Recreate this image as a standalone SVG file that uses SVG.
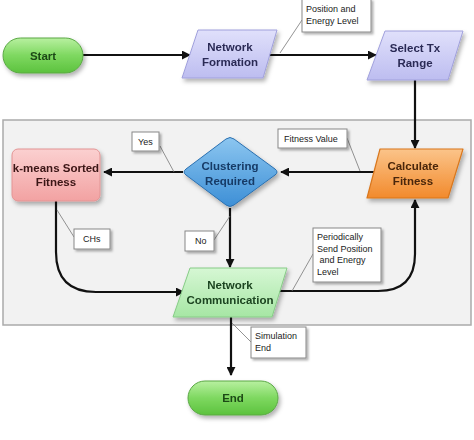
<svg xmlns="http://www.w3.org/2000/svg" width="474" height="440" viewBox="0 0 474 440">
<defs>
<linearGradient id="gStart" x1="0" y1="0" x2="0" y2="1"><stop offset="0" stop-color="#b8f0a0"/><stop offset="0.5" stop-color="#7ed860"/><stop offset="1" stop-color="#5cc23e"/></linearGradient>
<linearGradient id="gLav" x1="0" y1="0" x2="0" y2="1"><stop offset="0" stop-color="#e0e0fb"/><stop offset="1" stop-color="#bdbdf0"/></linearGradient>
<linearGradient id="gOr" x1="0" y1="0" x2="0" y2="1"><stop offset="0" stop-color="#fbc48a"/><stop offset="1" stop-color="#f28a2c"/></linearGradient>
<linearGradient id="gBlue" x1="0" y1="0" x2="0" y2="1"><stop offset="0" stop-color="#8cc6f0"/><stop offset="1" stop-color="#3d8fd6"/></linearGradient>
<linearGradient id="gPink" x1="0" y1="0" x2="0" y2="1"><stop offset="0" stop-color="#fbd0d0"/><stop offset="1" stop-color="#f2a2a2"/></linearGradient>
<linearGradient id="gLG" x1="0" y1="0" x2="0" y2="1"><stop offset="0" stop-color="#d6f7d4"/><stop offset="1" stop-color="#a6e6a4"/></linearGradient>
<filter id="sh" x="-20%" y="-20%" width="150%" height="160%"><feDropShadow dx="2" dy="3" stdDeviation="2" flood-color="#000" flood-opacity="0.3"/></filter>
<filter id="sh2" x="-20%" y="-20%" width="150%" height="160%"><feDropShadow dx="2" dy="2" stdDeviation="1.2" flood-color="#000" flood-opacity="0.3"/></filter>
<marker id="ah" viewBox="0 0 10 10" refX="9" refY="5" markerWidth="9" markerHeight="9" markerUnits="userSpaceOnUse" orient="auto"><path d="M0,0 L10,5 L0,10 z" fill="#111"/></marker>
</defs>
<style>
.lbl{font-family:"Liberation Sans",Arial,sans-serif;font-weight:bold;font-size:11.5px;text-anchor:middle}
.cal{font-family:"Liberation Sans",Arial,sans-serif;font-size:9px;fill:#222}
.cbox{fill:#fff;stroke:#888;stroke-width:1;filter:url(#sh2)}
.lead{stroke:#777;stroke-width:0.8;fill:none}
.conn{stroke:#111;stroke-width:2.2;fill:none}
</style>
<rect x="3" y="120" width="468" height="205" fill="#f2f2f2" stroke="#aaa" stroke-width="1.5"/>

<g id="connectors">
<line class="conn" x1="83" y1="55" x2="190" y2="55" marker-end="url(#ah)"/>
<line class="conn" x1="266" y1="55" x2="376" y2="55" marker-end="url(#ah)"/>
<line class="conn" x1="415" y1="80" x2="415" y2="148" stroke-width="1.5" marker-end="url(#ah)"/>
<line class="conn" x1="377" y1="172" x2="281" y2="172" marker-end="url(#ah)"/>
<line class="conn" x1="183" y1="172" x2="104" y2="172" marker-end="url(#ah)"/>
<line class="conn" x1="230" y1="208" x2="230" y2="267" stroke-width="1.5" marker-end="url(#ah)"/>
<path class="conn" d="M56,201 V252 Q56,292 96,292 H184" marker-end="url(#ah)"/>
<path class="conn" d="M275,291 H378 Q415,291 415,254 V200" marker-end="url(#ah)"/>
<line class="conn" x1="231" y1="317" x2="231" y2="375" marker-end="url(#ah)"/>
</g>

<g id="start" filter="url(#sh)">
<rect x="3" y="38" width="80" height="35" rx="17.5" fill="url(#gStart)" stroke="#5aa845" stroke-width="1"/>
<text class="lbl" x="43" y="59.5" fill="#1d4a17">Start</text>
</g>

<g id="network-formation" filter="url(#sh)">
<polygon points="198,30 277,30 263,78 182,78" fill="url(#gLav)" stroke="#a0a0dc" stroke-width="1" stroke-linejoin="round"/>
<text class="lbl" x="230" y="51" fill="#2a2a55">Network</text>
<text class="lbl" x="230" y="65.5" fill="#2a2a55">Formation</text>
</g>

<g id="select-tx" filter="url(#sh)">
<polygon points="385,31 463,31 448,80 367,80" fill="url(#gLav)" stroke="#a0a0dc" stroke-width="1" stroke-linejoin="round"/>
<text class="lbl" x="415" y="52" fill="#2a2a55">Select Tx</text>
<text class="lbl" x="415" y="66.5" fill="#2a2a55">Range</text>
</g>

<g id="calculate-fitness" filter="url(#sh)">
<polygon points="380,149 463,149 448,198 367,198" fill="url(#gOr)" stroke="#d9771c" stroke-width="1.2" stroke-linejoin="round"/>
<text class="lbl" x="413" y="170" fill="#4a2608">Calculate</text>
<text class="lbl" x="413" y="185" fill="#4a2608">Fitness</text>
</g>

<g id="clustering-required" filter="url(#sh)">
<path d="M226,139 Q230,136 234,139 L275,169 Q279,172 275,175 L234,205 Q230,208 226,205 L186,175 Q182,172 186,169 Z" fill="url(#gBlue)" stroke="#2a70b0" stroke-width="1"/>
<text class="lbl" x="230" y="170" fill="#173a66">Clustering</text>
<text class="lbl" x="230" y="185" fill="#173a66">Required</text>
</g>

<g id="kmeans" filter="url(#sh)">
<rect x="12" y="149" width="88" height="52" rx="6" fill="url(#gPink)" stroke="#e39494" stroke-width="1"/>
<text class="lbl" x="56" y="172" fill="#3a1414">k-means Sorted</text>
<text class="lbl" x="56" y="186" fill="#3a1414">Fitness</text>
</g>

<g id="network-communication" filter="url(#sh)">
<polygon points="190,268 287,268 272,317 173,317" fill="url(#gLG)" stroke="#86cc86" stroke-width="1" stroke-linejoin="round"/>
<text class="lbl" x="230" y="289" fill="#1c4420">Network</text>
<text class="lbl" x="230" y="304" fill="#1c4420">Communication</text>
</g>

<g id="end" filter="url(#sh)">
<rect x="188" y="381" width="90" height="34" rx="17" fill="url(#gStart)" stroke="#5aa845" stroke-width="1"/>
<text class="lbl" x="233" y="402" fill="#1d4a17">End</text>
</g>

<g id="callout-position">
<line class="lead" x1="280" y1="53" x2="302" y2="20"/>
<rect class="cbox" x="302" y="-1" width="69" height="33"/>
<text class="cal" x="306" y="12">Position and</text>
<text class="cal" x="306" y="24">Energy Level</text>
</g>

<g id="callout-yes">
<line class="lead" x1="160" y1="146" x2="174" y2="172"/>
<rect class="cbox" x="132" y="132" width="27" height="19"/>
<text class="cal" x="138" y="145">Yes</text>
</g>

<g id="callout-fitness">
<line class="lead" x1="347" y1="138" x2="360" y2="171"/>
<rect class="cbox" x="278" y="129" width="69" height="19"/>
<text class="cal" x="284" y="141.5">Fitness Value</text>
</g>

<g id="callout-chs">
<line class="lead" x1="57" y1="210" x2="74" y2="237"/>
<rect class="cbox" x="74" y="229" width="36" height="20"/>
<text class="cal" x="83" y="242">CHs</text>
</g>

<g id="callout-no">
<line class="lead" x1="214" y1="240" x2="230" y2="216"/>
<rect class="cbox" x="185" y="231" width="29" height="20"/>
<text class="cal" x="195" y="244">No</text>
</g>

<g id="callout-periodic">
<line class="lead" x1="292" y1="291" x2="313" y2="254"/>
<rect class="cbox" x="313" y="228" width="68" height="54"/>
<text class="cal" x="317" y="240">Periodically</text>
<text class="cal" x="317" y="251.5">Send Position</text>
<text class="cal" x="319.5" y="263">and Energy</text>
<text class="cal" x="317" y="274.5">Level</text>
</g>

<g id="callout-simulation">
<line class="lead" x1="232" y1="323" x2="251" y2="342"/>
<rect class="cbox" x="251" y="327" width="55" height="31"/>
<text class="cal" x="255" y="339">Simulation</text>
<text class="cal" x="255" y="351">End</text>
</g>
</svg>
